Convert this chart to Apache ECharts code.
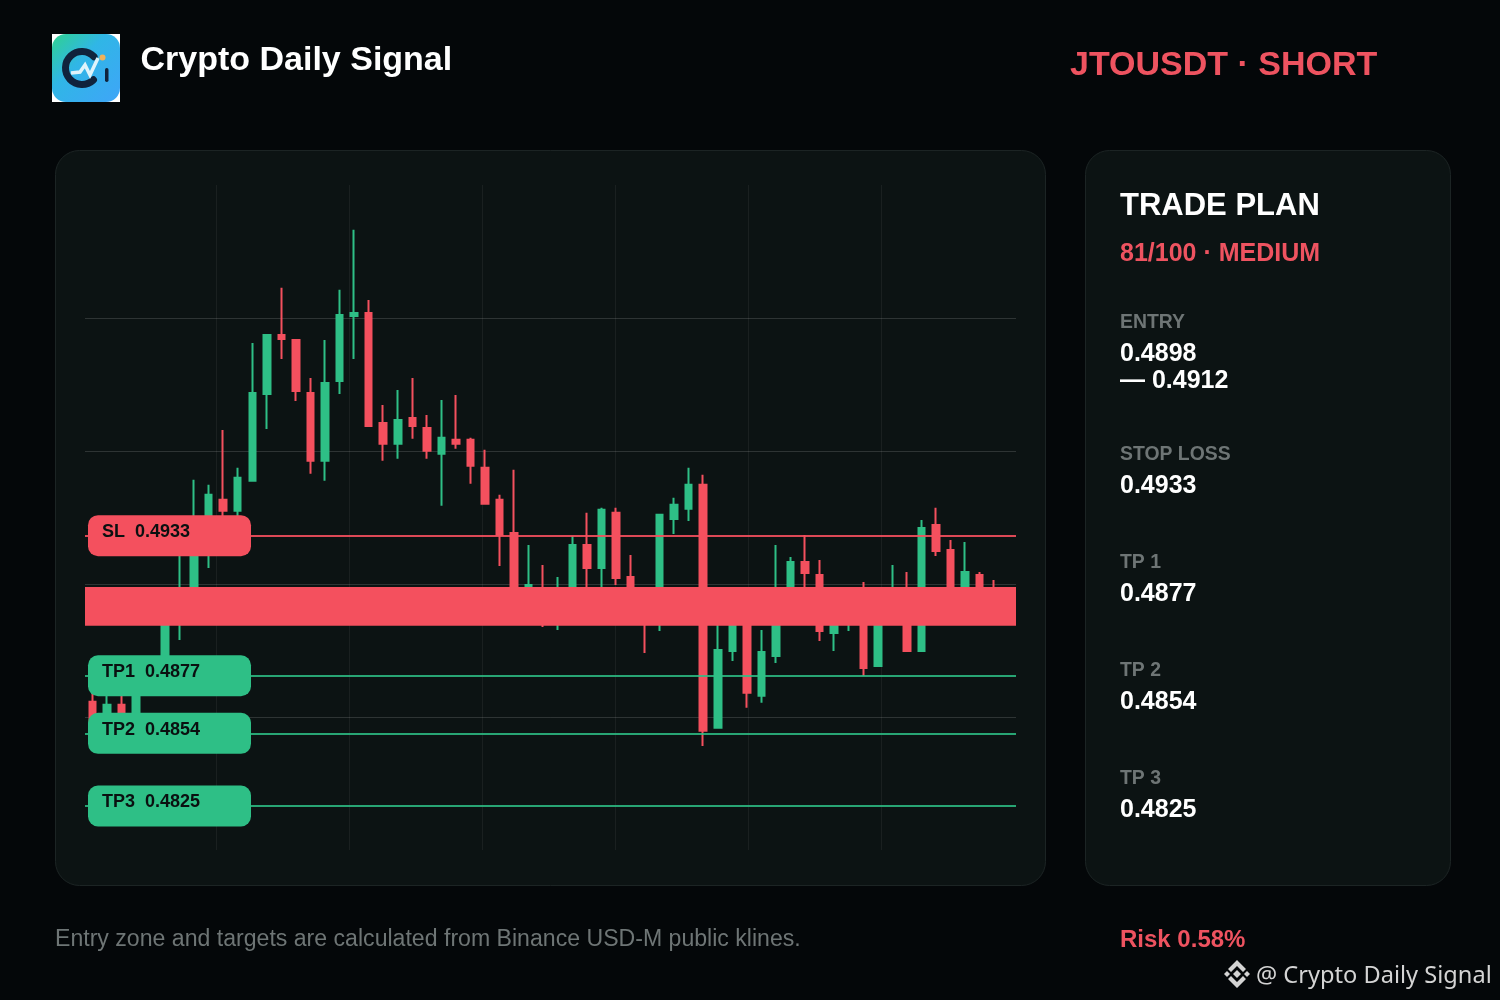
<!DOCTYPE html>
<html><head><meta charset="utf-8">
<style>html,body{margin:0;padding:0;background:#040709}#c{width:1500px;height:1000px}</style>
<script src="https://cdn.jsdelivr.net/npm/echarts@6/dist/echarts.min.js"></script>
</head><body><div id="c"></div>
<script>
const opens=[.48666,.48574,.48654,.48586,.48714,.48745,.49001,.49065,.49293,.49473,.49429,.49549,.49896,.50132,.50112,.49900,.49629,.49948,.50208,.50220,.49780,.49697,.49800,.49760,.49657,.49713,.49713,.49601,.49473,.49341,.49073,.49105,.48993,.49097,.49293,.49201,.49421,.49165,.49081,.49073,.49397,.49437,.49533,.48562,.48869,.49033,.48690,.48849,.49073,.49225,.49173,.48941,.49013,.49073,.48809,.49025,.49093,.48869,.49373,.49273,.49073,.49173,.49093,.49081];
const closes=[.48586,.48654,.48578,.48753,.48813,.49053,.49093,.49353,.49493,.49429,.49561,.49900,.50132,.50116,.49908,.49629,.49940,.50212,.50220,.49768,.49697,.49792,.49768,.49669,.49721,.49697,.49609,.49457,.49333,.49129,.49133,.49001,.49093,.49293,.49201,.49433,.49161,.49113,.49025,.49413,.49453,.49533,.48550,.48873,.49033,.48702,.48865,.49073,.49225,.49181,.48949,.49073,.49053,.48801,.49033,.49081,.48869,.49361,.49269,.49073,.49185,.49073,.49053,.49033];
const lows=[.48570,.48554,.48562,.48554,.48698,.48714,.48913,.49033,.49201,.49401,.49401,.49549,.49756,.50036,.49868,.49577,.49549,.49896,.50036,.49768,.49629,.49637,.49717,.49637,.49449,.49677,.49537,.49457,.49209,.49105,.49033,.48965,.48953,.49073,.49113,.49125,.49133,.49097,.48861,.48949,.49337,.49389,.48490,.48562,.48829,.48642,.48662,.48821,.49053,.49093,.48909,.48869,.48949,.48769,.48805,.48993,.48869,.48869,.49249,.49053,.49053,.49041,.49025,.49009];
const highs=[.48714,.48706,.48714,.48793,.48833,.49081,.49313,.49553,.49533,.49752,.49601,.50100,.50132,.50320,.50112,.49960,.50112,.50312,.50552,.50272,.49852,.49912,.49960,.49812,.49872,.49892,.49721,.49673,.49493,.49593,.49293,.49213,.49165,.49329,.49421,.49441,.49441,.49253,.49113,.49413,.49481,.49601,.49573,.49033,.49073,.49073,.48953,.49293,.49245,.49333,.49233,.49105,.49093,.49145,.49073,.49213,.49185,.49393,.49441,.49313,.49305,.49185,.49153,.49105];
const categories=opens.map((_,i)=>String(i+1));
const levelNames=['SL','TP1','TP2','TP3'];
const levelPrices=[0.4933,0.4877,0.4854,0.4825];
const levelColors=['#f4505e','#2ebf86','#2ebf86','#2ebf86'];
const levelLineColors=['rgba(244,80,94,0.9)','rgba(46,191,134,0.85)','rgba(46,191,134,0.85)','rgba(46,191,134,0.85)'];
const entryZone=[0.4897,0.49125];
const gridPrices=[0.48606,0.49137,0.49669,0.50200];
const gridTimes=[0.99,1.99,2.99,3.99,4.99,5.99];
const planLabels=['ENTRY','STOP LOSS','TP 1','TP 2','TP 3'];
const planValues=[['0.4898','— 0.4912'],['0.4933'],['0.4877'],['0.4854'],['0.4825']];
const planLabelY=[323,455,563,671,779];
const RED='#f4505e',GREEN='#2ebf86',TXTRED='#ee5360',FONT='"Liberation Sans",Arial,sans-serif';

const graphics=[];
function T(x,y,text,size,fill,weight,family){graphics.push({type:'text',silent:true,z:10,x,y,style:{text,fontSize:size,fill,fontWeight:weight||'bold',fontFamily:family||FONT,verticalAlign:'middle'}});}
function panel(x,y,w,h){graphics.push({type:'rect',silent:true,z:-10,shape:{x,y,width:w,height:h,r:24},style:{fill:'#0c1313',stroke:'#1c2424',lineWidth:1}});}
panel(55.5,150.5,990,735);panel(1085.5,150.5,365,735);
// logo
graphics.push({type:'rect',silent:true,z:10,shape:{x:52,y:34,width:68,height:68},style:{fill:'#ffffff'}});
graphics.push({type:'rect',silent:true,z:11,shape:{x:52,y:34,width:68,height:68,r:14},style:{fill:new echarts.graphic.LinearGradient(0,0,1,1,[{offset:0,color:'#2fd28f'},{offset:.4,color:'#30b6e6'},{offset:1,color:'#3fa5f8'}])}});
graphics.push({type:'arc',silent:true,z:12,shape:{cx:82,cy:68,r:16.5,startAngle:-0.75,endAngle:0.8,clockwise:false},style:{stroke:'#10233c',fill:null,lineWidth:7,lineCap:'round'}});
graphics.push({type:'polyline',silent:true,z:13,shape:{points:[[71,73],[80,72],[85,65],[90,75],[98,58]]},style:{stroke:'#dff4fb',fill:null,lineWidth:3.5}});
graphics.push({type:'circle',silent:true,z:14,shape:{cx:102.5,cy:57.5,r:3},style:{fill:'#f2b25a'}});
graphics.push({type:'rect',silent:true,z:13,shape:{x:105,y:68,width:3.5,height:14,r:1.7},style:{fill:'#10233c'}});
// header
T(140.5,61,'Crypto Daily Signal',34,'#ffffff');
T(1070,66,'JTOUSDT · SHORT',34,TXTRED);
// plan
T(1120,206,'TRADE PLAN',31,'#ffffff');
T(1120,254,'81/100 · MEDIUM',25,TXTRED);
planLabels.forEach((l,i)=>{
  T(1120,planLabelY[i],l,19.4,'#6e7575');
  planValues[i].forEach((v,j)=>T(1120,planLabelY[i]+31+j*27,v,25,'#ffffff'));
});
// footer
T(55,940,'Entry zone and targets are calculated from Binance USD-M public klines.',23.1,'#6e7575','normal');
T(1120,940,'Risk 0.58%',24,TXTRED);
T(1256,976,'@ Crypto Daily Signal',23.6,'#d4d4d4','normal','"Noto Sans","Open Sans",sans-serif');
const LG='#d4d4d4';
[[[1237,960],[1246,969],[1243,972],[1237,966],[1231,972],[1228,969]],
 [[1237,988],[1246,979],[1243,976],[1237,982],[1231,976],[1228,979]],
 [[1237,970],[1241,974],[1237,978],[1233,974]],
 [[1227,971],[1230,974],[1227,977],[1224,974]],
 [[1247,971],[1250,974],[1247,977],[1244,974]]].forEach(p=>graphics.push({type:'polygon',silent:true,z:10,shape:{points:p},style:{fill:LG}}));

const chart=echarts.init(document.getElementById('c'),null,{renderer:'canvas'});
chart.setOption({
  animation:false,backgroundColor:'#040709',
  graphic:graphics,
  grid:{left:85,top:185,width:931,height:665,containLabel:false},
  xAxis:[
    {type:'category',data:categories,boundaryGap:true,axisLine:{show:false},axisTick:{show:false},axisLabel:{show:false},splitLine:{show:false}},
    {type:'value',min:0,max:7,position:'top',axisLine:{show:false},axisTick:{show:false,customValues:gridTimes},axisLabel:{show:false},
     splitLine:{show:true,showMinLine:true,showMaxLine:true,lineStyle:{color:'rgba(255,255,255,0.06)',width:1}}}
  ],
  yAxis:{type:'value',min:0.48074,max:0.50731,scale:true,axisLine:{show:false},axisLabel:{show:false},
    axisTick:{show:false,customValues:gridPrices},
    splitLine:{show:true,showMinLine:true,showMaxLine:true,lineStyle:{color:'rgba(255,255,255,0.14)',width:1}}},
  series:[{
    type:'candlestick',name:'JTOUSDT',xAxisIndex:0,barWidth:7,silent:true,
    itemStyle:{color:GREEN,color0:RED,borderColor:GREEN,borderColor0:RED,borderWidth:2},
    data:opens.map((o,i)=>[o,closes[i],lows[i],highs[i]]),
    markArea:{silent:true,z:3,animation:false,itemStyle:{color:RED,opacity:1},data:[[{yAxis:entryZone[1]},{yAxis:entryZone[0]}]]},
    markLine:{silent:true,z:5,animation:false,symbol:'none',precision:5,
      data:levelPrices.map((p,i)=>({yAxis:p,name:levelNames[i],
        lineStyle:{color:levelLineColors[i],width:2,type:'solid'},
        label:{show:true,position:'insideStart',distance:3,formatter:'{t|'+levelNames[i]+'  '+p.toFixed(4)+'}\n{b| }',
          rich:{t:{fontFamily:FONT,fontWeight:'bold',fontSize:18,lineHeight:20,color:'#0a1010',width:135},b:{fontSize:6,lineHeight:10}},
          align:'left',verticalAlign:'middle',
          backgroundColor:levelColors[i],borderRadius:10,padding:[7,14,4,14]}}))}
  }]
});
</script></body></html>
